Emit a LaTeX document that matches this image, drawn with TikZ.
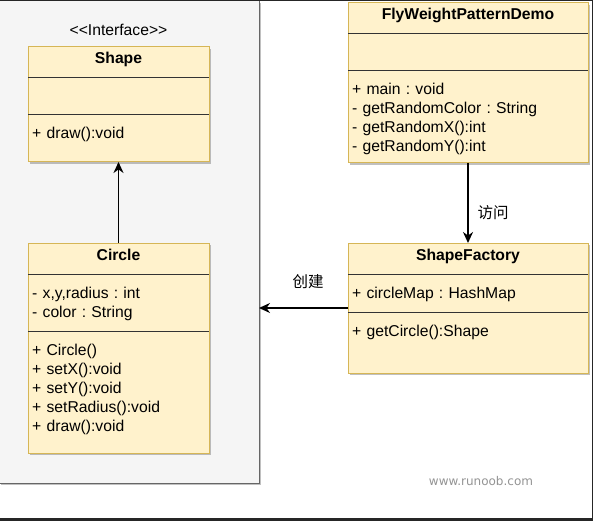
\documentclass[tikz,border=0pt]{standalone}
\usepackage{fontspec}
\setmainfont{Liberation Sans}
\newfontfamily\cjk{Noto Sans CJK SC}
\newfontfamily\wmfont{DejaVu Sans}
\usepackage{tikz}
\usetikzlibrary{arrows.meta, positioning, shadows}
\definecolor{boxfill}{HTML}{FFF2CC}
\definecolor{boxline}{HTML}{D6B656}
\definecolor{pkgfill}{HTML}{F5F5F5}
\definecolor{pkgline}{HTML}{666666}
\definecolor{screen}{HTML}{262626}
\frenchspacing

\begin{document}
\begin{tikzpicture}[
        x=1pt, y=1pt,
        >={Stealth[length=11pt, width=10pt]},
        every node/.style={font=\fontsize{15.7}{19}\selectfont},
        shade/.style={drop shadow={shadow xshift=2pt, shadow yshift=-2pt, opacity=0.35, fill=black!70}},
        pkg/.style={draw=pkgline, fill=pkgfill, line width=1pt, anchor=north west, inner sep=0pt, outer sep=0pt, shade},
        cls/.style={draw=boxline, fill=boxfill, line width=1pt, anchor=north west, inner sep=0pt, outer sep=0pt, shade},
        title/.style={anchor=base, font=\fontsize{15.7}{19}\selectfont\bfseries},
        member/.style={anchor=base west, text width=220pt, align=left, inner sep=0pt},
        sep/.style={draw=black!80, line width=1pt},
        edge/.style={->, line width=1.8pt},
        cjklabel/.style={midway, font=\cjk\fontsize{15.5}{19}\selectfont}
    ]
        \useasboundingbox (0,0) rectangle (593,-521);
        \fill[white] (0,0) rectangle (593,-521);

        % 左侧区域与四个类框
        \node[pkg, minimum width=260, minimum height=482] (frame) at (-1,-1) {};
        \node[cls, minimum width=181, minimum height=115] (shape) at (28,-47) {};
        \node[cls, minimum width=181, minimum height=210] (circle) at (28,-243) {};
        \node[cls, minimum width=240, minimum height=160] (demo) at (348,-3) {};
        \node[cls, minimum width=240, minimum height=130] (factory) at (348,-243) {};

        % 分隔线
        \foreach \c/\a/\b in {shape/31/68, circle/31/88, demo/31/68, factory/31/69} {
            \draw[sep] ([yshift=-\a]\c.north west) -- ([yshift=-\a]\c.north east);
            \draw[sep] ([yshift=-\b]\c.north west) -- ([yshift=-\b]\c.north east);
        }

        % 类名
        \node[anchor=base] (stereo) at ([yshift=11]shape.north) {<\kern0pt<Interface>\kern0pt>};
        \node[title] (shapeT) at ([yshift=-17]shape.north) {Shape};
        \node[title] (circleT) at ([yshift=-17]circle.north) {Circle};
        \node[title] (demoT) at ([yshift=-17]demo.north) {FlyWeightPatternDemo};
        \node[title] (factoryT) at ([yshift=-17]factory.north) {ShapeFactory};

        % 属性与方法
        \node[member] (shapeM) at ([shift={(4,-92)}]shape.north west) {+ draw():void};
        \node[member] (circleA) at ([shift={(4,-55)}]circle.north west) {- x,y,radius : int\\- color : String};
        \node[member] (circleM) at ([shift={(4,-112)}]circle.north west) {+ Circle()\\+ setX():void\\+ setY():void\\+ setRadius():void\\+ draw():void};
        \node[member] (demoM) at ([shift={(4,-92)}]demo.north west) {+ main : void\\- getRandomColor : String\\- getRandomX():int\\- getRandomY():int};
        \node[member] (factoryA) at ([shift={(4,-55)}]factory.north west) {+ circleMap : HashMap};
        \node[member] (factoryM) at ([shift={(4,-93)}]factory.north west) {+ getCircle():Shape};

        % 连线
        \draw[edge] (circle) -- (shape);
        \draw[edge] (demo) -- (factory) node[cjklabel, xshift=25pt, yshift=-10pt] {访问};
        \draw[edge] (factory.west) -- (factory.west -| frame.east) node[cjklabel, xshift=4.5pt, yshift=26pt] {创建};

        \node[font=\wmfont\fontsize{12}{14}\selectfont, text=black!42] (wm) at (481,-481) {www.runoob.com};

        % 屏幕边缘
        \fill[screen] (0,0) rectangle (593,-1.5);
        \fill[screen] (591.5,0) rectangle (593,-521);
        \fill[screen] (0,-517.5) rectangle (593,-521);
    \end{tikzpicture}
\end{document}
